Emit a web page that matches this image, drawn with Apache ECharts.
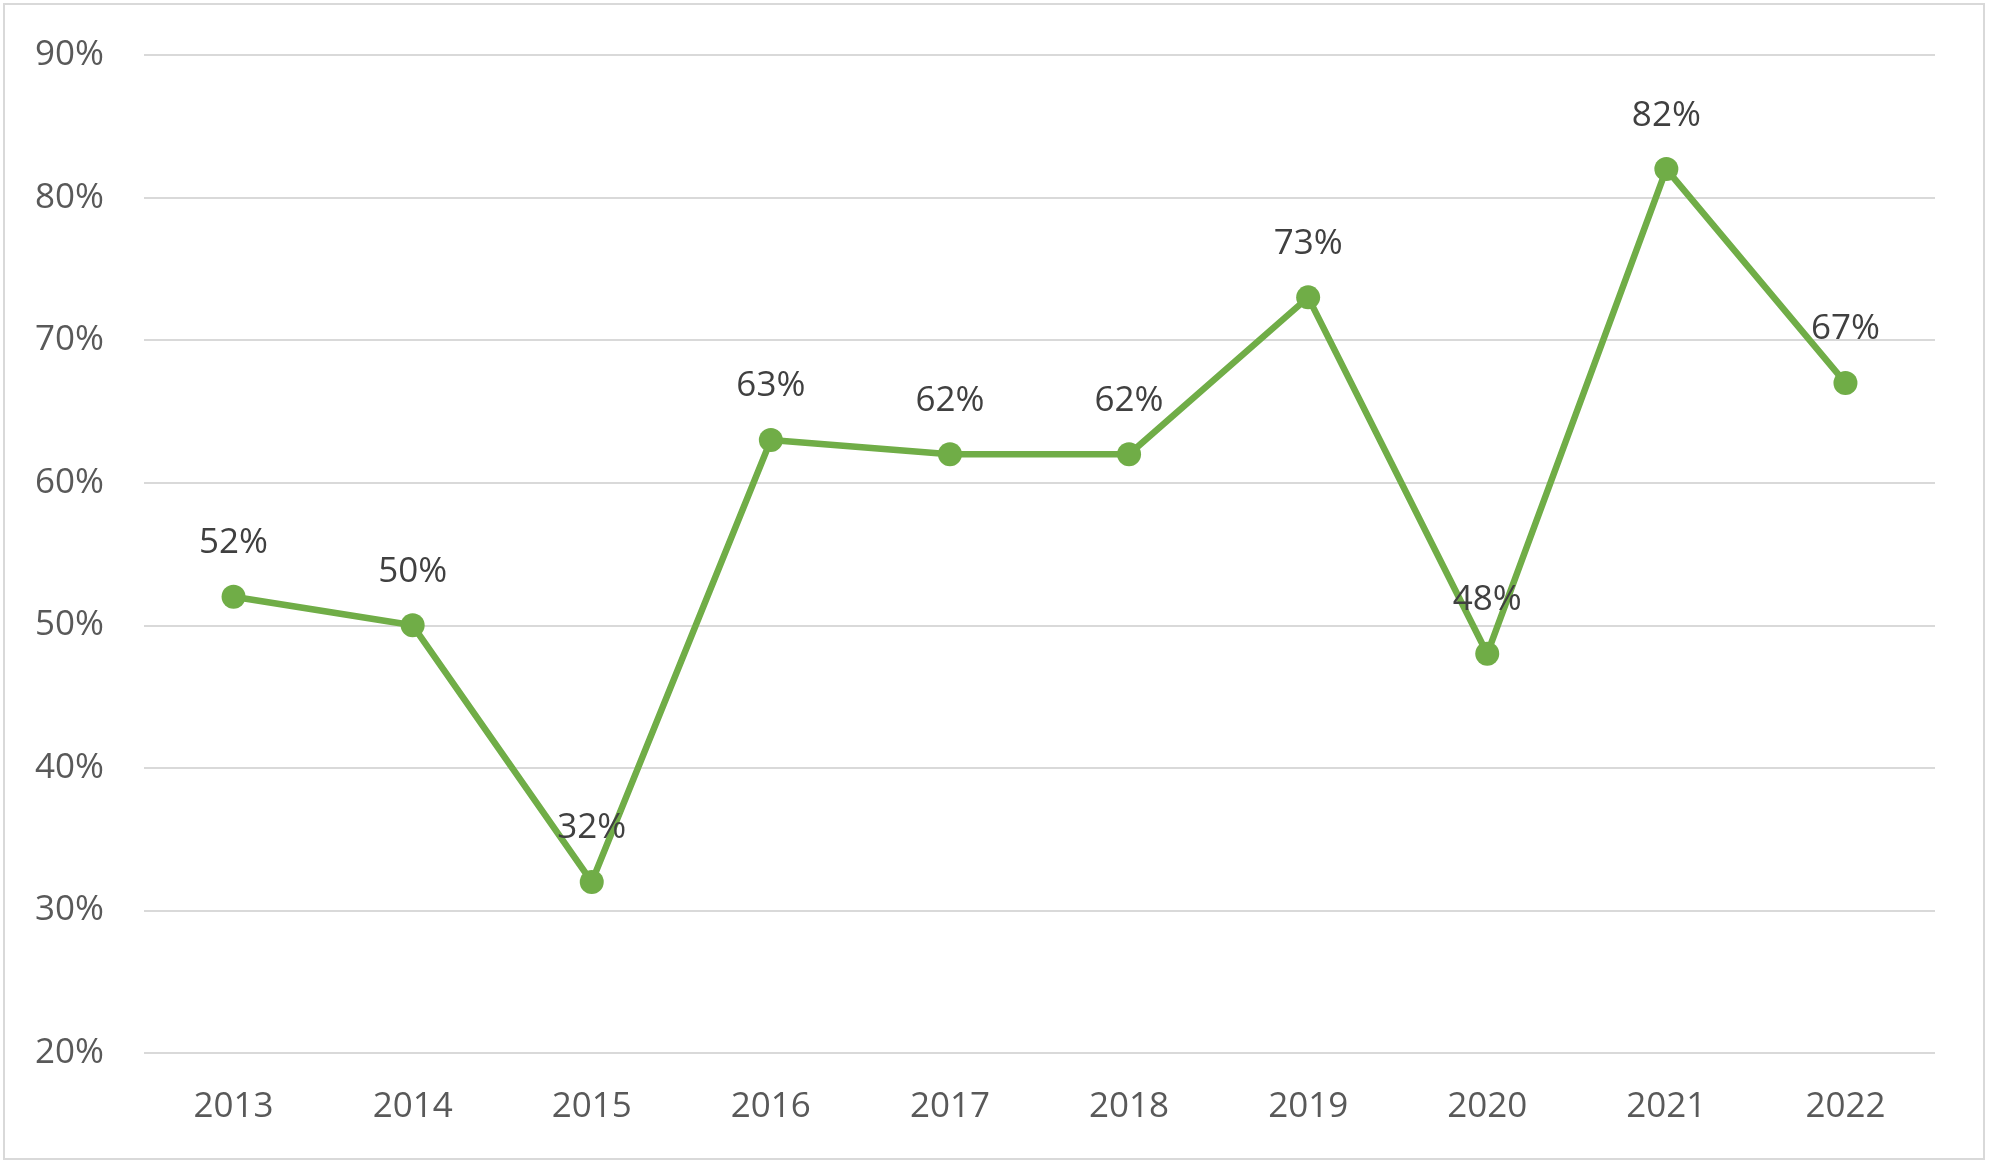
<!DOCTYPE html>
<html>
<head>
<meta charset="utf-8">
<script src="https://cdn.jsdelivr.net/npm/echarts@6/dist/echarts.min.js"></script>
<style>
html,body{margin:0;padding:0;background:#fff;}
#chart{width:1993px;height:1168px;}
</style>
</head>
<body>
<div id="chart"></div>
<script>
const years = ['2013','2014','2015','2016','2017','2018','2019','2020','2021','2022'];
const values = [52, 50, 32, 63, 62, 62, 73, 48, 82, 67];
const yMin = 20, yMax = 90, yStep = 10;

const FONT = '"Open Sans", Lato, sans-serif';
const chart = echarts.init(document.getElementById('chart'));
chart.setOption({
  backgroundColor: '#ffffff',
  animation: false,
  graphic: [{
    type: 'rect',
    shape: {x: 4, y: 4, width: 1980, height: 1155},
    style: {fill: 'none', stroke: '#d9d9d9', lineWidth: 2},
    silent: true
  }],
  grid: {left: 144, right: 58, top: 55, bottom: 115, containLabel: false},
  xAxis: {
    type: 'category',
    data: years,
    boundaryGap: true,
    axisLine: {show: false},
    axisTick: {show: false},
    axisLabel: {color: '#595959', fontSize: 35, fontFamily: FONT, margin: 37}
  },
  yAxis: {
    type: 'value',
    min: yMin, max: yMax, interval: yStep,
    axisLine: {show: false},
    axisTick: {show: false},
    splitLine: {lineStyle: {color: '#d9d9d9', width: 2}},
    axisLabel: {color: '#595959', fontSize: 35, fontFamily: FONT, margin: 40, formatter: '{value}%'}
  },
  series: [{
    type: 'line',
    data: values,
    symbol: 'circle',
    symbolSize: 24,
    lineStyle: {color: '#70AD47', width: 6.5},
    itemStyle: {color: '#70AD47'},
    label: {
      show: true,
      position: 'top',
      distance: 24,
      color: '#404040',
      fontSize: 35,
      fontFamily: FONT,
      formatter: p => p.value + '%'
    }
  }]
});
</script>
</body>
</html>
